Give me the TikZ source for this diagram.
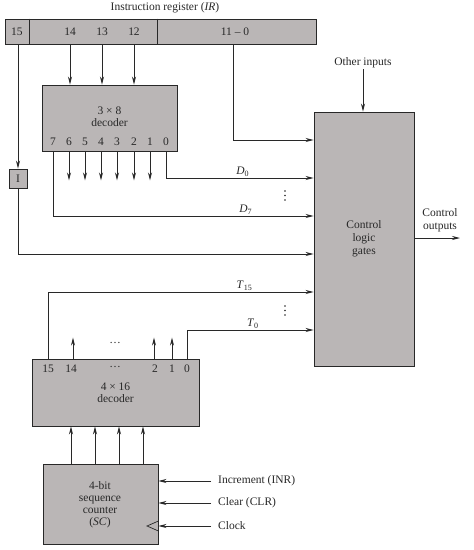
\documentclass[tikz,border=0pt]{standalone}
\usepackage{fontspec}
\setmainfont{Liberation Serif}
\usetikzlibrary{arrows.meta,calc}
\definecolor{boxgray}{RGB}{186,182,182}
\definecolor{ink}{RGB}{40,40,40}
\begin{document}
\begin{tikzpicture}[x=1pt,y=-1pt,
  font=\fontsize{11.5}{13}\selectfont,
  every node/.style={text=ink},
  blk/.style={draw=ink,fill=boxgray,line width=0.9pt,inner sep=0pt},
  lbl/.style={inner sep=1pt},
  arr/.style={draw=ink,line width=0.8pt,-{Stealth[length=8pt,width=4pt]}},
  ln/.style={draw=ink,line width=0.8pt}]
\useasboundingbox (0,0) rectangle (474,550);
\fill[white] (0,0) rectangle (474,550);

% Instruction register
\node[blk,minimum width=311pt,minimum height=25pt] (ir) at (160.5,31.5) {};
\draw[ln,line width=0.9pt] (29,19 |- ir.north) -- (29,19 |- ir.south);
\draw[ln,line width=0.9pt] (157,19 |- ir.north) -- (157,19 |- ir.south);
\node[lbl] (title) at (165,8) {Instruction register (\textit{IR})};
\node[lbl] (l15) at (17,31.5) {15};
\node[lbl] (l14) at (70,31.5) {14};
\node[lbl] (l13) at (102,31.5) {13};
\node[lbl] (l12) at (134,31.5) {12};
\node[lbl] (l11) at (235,31.5) {11 -- 0};

% 3x8 decoder
\node[blk,minimum width=135pt,minimum height=66pt] (dec3) at (109.5,118) {};
\node[lbl,align=center] (dec3t) at (109.5,117) {3 × 8\\[-1pt]decoder};
\foreach \n/\x in {7/53,6/69,5/85,4/101,3/117,2/134,1/150,0/166}
  \node[lbl] (o\n) at (\x,142) {\n};

% control logic gates
\node[blk,minimum width=100pt,minimum height=254pt] (ctrl) at (364,239) {};
\node[lbl,align=center] (ctrlt) at (364,239) {Control\\logic\\gates};

% flip-flop I
\node[blk,minimum width=18pt,minimum height=19pt] (one) at (18,178.5) {I};

% 4x16 decoder
\node[blk,minimum width=167pt,minimum height=67pt] (dec4) at (115.5,392.5) {};
\node[lbl,align=center] (dec4t) at (115.5,393) {4 × 16\\[-1pt]decoder};
\node[lbl] (u15) at (48,369) {15};
\node[lbl] (u14) at (71,369) {14};
\node[lbl] (udots) at (115,367) {\dots};
\node[lbl] (u2) at (155,369) {2};
\node[lbl] (u1) at (172,369) {1};
\node[lbl] (u0) at (187,369) {0};

% sequence counter
\node[blk,minimum width=115pt,minimum height=80pt] (sc) at (100.5,504) {};
\node[lbl,align=center] (sct) at (100,505) {4-bit\\[-1pt]sequence\\[-1pt]counter\\[-1pt](\textit{SC})};
\draw[ln,line width=0.7pt] (sc.east |- 0,521) -- (147,526) -- (sc.east |- 0,531);

% coordinates on control inputs
\coordinate (c1) at (300,140);
\coordinate (c2) at (300,178);
\coordinate (c3) at (300,216);
\coordinate (c4) at (300,254);
\coordinate (c5) at (300,292);
\coordinate (c6) at (300,330);
\coordinate (outend) at (460,238);

% IR -> decoder
\foreach \b in {14,13,12}
  \draw[arr] (ir.south -| l\b) -- (dec3.north -| l\b);
% 11-0 -> control
\draw[arr] (ir.south -| 233,0) |- (ctrl.west |- c1);
% 15 -> I
\draw[arr] (ir.south -| one) -- (one.north);
\draw[arr] (one.south) |- (ctrl.west |- c4);
% decoder outputs
\foreach \n in {6,5,4,3,2,1}
  \draw[arr] (dec3.south -| o\n) -- ++(0,29);
\draw[arr] (dec3.south -| o0) |- (ctrl.west |- c2) node[lbl,pos=0.76,above] (d0) {\textit{D}\textsubscript{0}};
\draw[arr] (dec3.south -| o7) |- (ctrl.west |- c3) node[lbl,pos=0.87,above] (d7) {\textit{D}\textsubscript{7}};
\foreach \y in {191,195.5,200} \fill[ink] (285,\y) circle (0.8pt);

% other inputs
\node[lbl] (other) at (363,63) {Other inputs};
\draw[arr] (other.south) -- (ctrl.north -| other);

% control outputs
\draw[arr] (ctrl.east |- outend) -- (outend);
\node[lbl,align=center] (outl) at (440,220) {Control\\outputs};

% timing outputs
\draw[arr] (dec4.north -| u15) |- (ctrl.west |- c5) node[lbl,pos=0.87,above] (t15) {\textit{T}\textsubscript{15}};
\draw[arr] (dec4.north -| u0) |- (ctrl.west |- c6) node[lbl,pos=0.76,above] (t0) {\textit{T}\textsubscript{0}};
\foreach \y in {306,310.5,315} \fill[ink] (285,\y) circle (0.8pt);
\foreach \x in {73,154,172}
  \draw[arr] (dec4.north -| \x,0) -- ++(0,-21);
\node[lbl] (tdots) at (115,343) {\dots};

% SC -> decoder
\foreach \x in {71,95,119,143}
  \draw[arr] (sc.north -| \x,0) -- (dec4.south -| \x,0);

% SC inputs
\node[lbl,anchor=west] (inr) at (217,481) {Increment (INR)};
\node[lbl,anchor=west] (clr) at (217,503) {Clear (CLR)};
\node[lbl,anchor=west] (clk) at (217,526) {Clock};
\draw[arr] ([xshift=-6pt]inr.west) -- (sc.east |- inr);
\draw[arr] ([xshift=-6pt]clr.west) -- (sc.east |- clr);
\draw[arr] ([xshift=-6pt]clk.west) -- (sc.east |- clk);
\end{tikzpicture}
\end{document}
